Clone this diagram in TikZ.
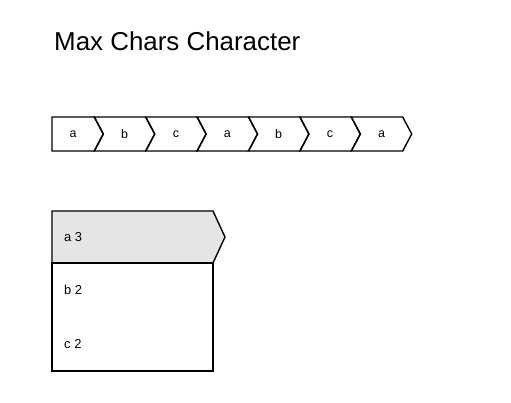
\documentclass[tikz,border=0pt]{standalone}
\usepackage{fontspec}
\setmainfont{Liberation Sans}
\tikzset{ cell/.style  = { draw
                         , line width = 1.4bp
                         , line join  = miter
                         },
          lbl/.style   = { inner sep  = 0pt
                         , font       = \fontsize{12.5}{14}\selectfont
                         },
          cnt/.style   = { inner sep  = 0pt
                         , anchor     = west
                         , font       = \fontsize{13}{15}\selectfont
                         }
        }

\begin{document}
\begin{tikzpicture}[x=1bp, y=-1bp]
    \useasboundingbox (0,0) rectangle (511,402);
    \node[anchor=base west, inner sep=0pt, font=\fontsize{26}{30}\selectfont]
        (title) at (54,50) {Max Chars Character};
    % the row of characters
    \draw[cell] (52,117) -- (94.3,117) -- (103.3,134) -- (94.3,151) -- (52,151) -- cycle;
    \node[lbl] (c0) at (73,134) {a};
    \foreach \ch [count=\i] in {b, c, a, b, c, a} {
        \pgfmathsetmacro{\xl}{94.3+(\i-1)*51.4}
        \pgfmathsetmacro{\xr}{\xl+51.4}
        \draw[cell] (\xl,117) -- (\xr,117) -- (\xr+9,134) -- (\xr,151)
            -- (\xl,151) -- (\xl+9,134) -- cycle;
        \node[lbl] (c\i) at ({(\xl+\xr)/2+4.5},134) {\ch};
    }
    % the counts
    \draw[cell, fill=black!10] (52,211) -- (213,211) -- (225,237) -- (213,263)
        -- (52,263) -- cycle;
    \draw[cell] (52,263) rectangle (213,371);
    \node[cnt] (na) at (64,237) {a 3};
    \node[cnt] (nb) at (64,290) {b 2};
    \node[cnt] (nc) at (64,344) {c 2};
\end{tikzpicture}
\end{document}
